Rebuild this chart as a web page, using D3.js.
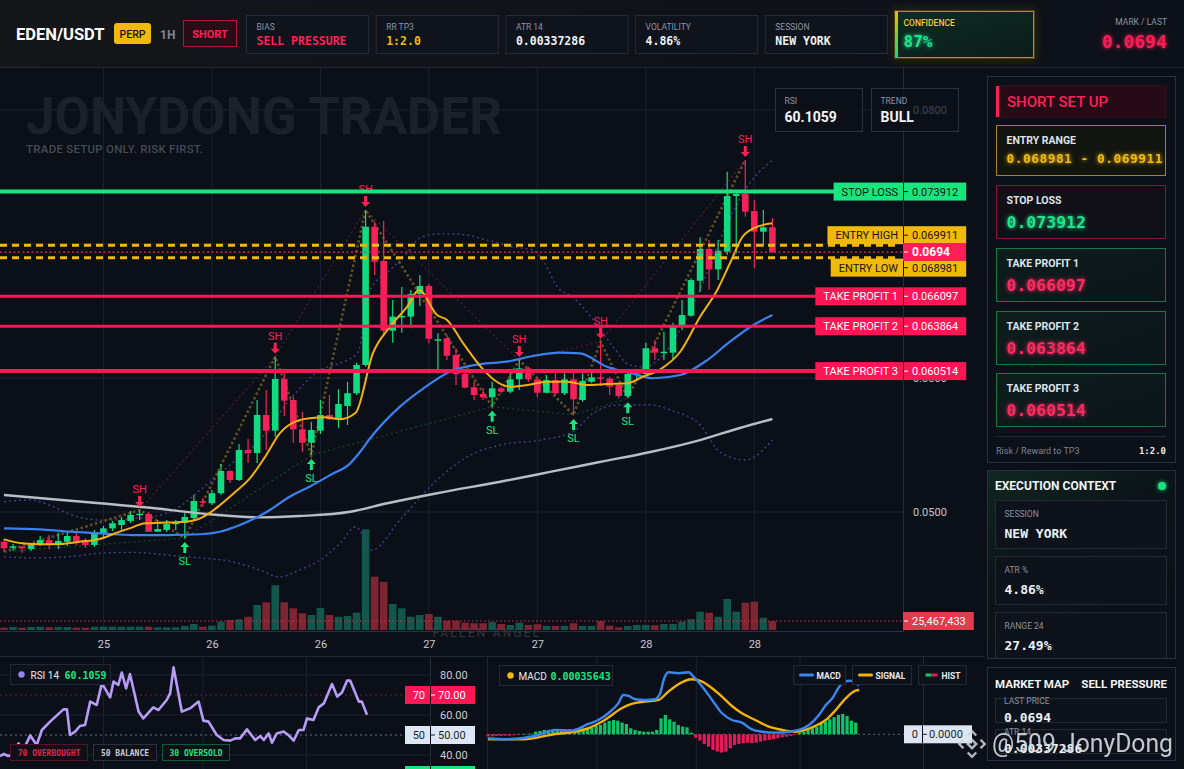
<!DOCTYPE html>
<html>
<head>
<meta charset="utf-8">
<title>EDEN/USDT 1H</title>
<script src="https://cdn.jsdelivr.net/npm/d3@7"></script>
<style>
  html, body { margin: 0; padding: 0; background: #0b0f17; overflow: hidden; }
  svg { display: block; }
  text { font-family: Roboto, "Noto Sans", sans-serif; }
  .mono { font-family: "DejaVu Sans Mono", "Liberation Mono", monospace; font-weight: bold; }
  .narrow { font-family: "Liberation Sans Narrow", Roboto, sans-serif; }
</style>
</head>
<body>
<svg id="chart" width="1184" height="769"></svg>
<script>
// ---- values ----
const pair = 'EDEN/USDT'
// [open, high, low, close], one per 1H bar
const candles = [
  [0.04778, 0.04796, 0.04704, 0.04729], [0.04737, 0.04761, 0.04711, 0.04744],
  [0.04741, 0.04746, 0.04696, 0.04729], [0.04724, 0.04769, 0.04709, 0.04754],
  [0.04761, 0.04821, 0.04746, 0.04791], [0.04791, 0.04828, 0.04724, 0.04761],
  [0.04761, 0.04846, 0.04724, 0.04784], [0.04778, 0.04843, 0.04746, 0.04821],
  [0.04821, 0.04851, 0.04754, 0.04778], [0.04778, 0.04806, 0.04731, 0.04754],
  [0.04754, 0.04866, 0.04739, 0.04846], [0.04841, 0.04896, 0.04813, 0.04878],
  [0.04878, 0.04933, 0.04858, 0.04916], [0.04903, 0.04963, 0.04866, 0.04940],
  [0.04933, 0.05007, 0.04918, 0.04978], [0.04983, 0.05015, 0.04940, 0.04987],
  [0.04985, 0.05000, 0.04851, 0.04853], [0.04853, 0.04940, 0.04851, 0.04873],
  [0.04866, 0.04940, 0.04851, 0.04910], [0.04916, 0.04940, 0.04866, 0.04920],
  [0.04918, 0.04993, 0.04806, 0.04963], [0.04955, 0.05127, 0.04948, 0.05082],
  [0.05080, 0.05104, 0.05040, 0.05075], [0.05065, 0.05164, 0.05052, 0.05140],
  [0.05140, 0.05358, 0.05127, 0.05306], [0.05306, 0.05313, 0.05216, 0.05239],
  [0.05239, 0.05507, 0.05231, 0.05463], [0.05463, 0.05545, 0.05366, 0.05440],
  [0.05440, 0.05836, 0.05366, 0.05724], [0.05724, 0.05910, 0.05463, 0.05607],
  [0.05607, 0.06159, 0.05562, 0.05993], [0.05993, 0.06047, 0.05716, 0.05831],
  [0.05836, 0.05860, 0.05515, 0.05617], [0.05617, 0.05749, 0.05450, 0.05517],
  [0.05517, 0.05674, 0.05425, 0.05612], [0.05607, 0.05836, 0.05582, 0.05724],
  [0.05724, 0.05873, 0.05687, 0.05692], [0.05692, 0.05916, 0.05625, 0.05806],
  [0.05791, 0.05972, 0.05649, 0.05886], [0.05886, 0.06114, 0.05873, 0.06097],
  [0.06097, 0.07254, 0.06084, 0.07129], [0.07129, 0.07167, 0.06769, 0.06868],
  [0.06873, 0.07172, 0.06308, 0.06353], [0.06353, 0.06582, 0.06263, 0.06458],
  [0.06453, 0.06679, 0.06338, 0.06463], [0.06458, 0.06657, 0.06371, 0.06627],
  [0.06627, 0.06769, 0.06537, 0.06687], [0.06687, 0.06702, 0.06259, 0.06293],
  [0.06284, 0.06334, 0.06035, 0.06289], [0.06296, 0.06321, 0.06134, 0.06166],
  [0.06172, 0.06222, 0.05948, 0.06028], [0.06030, 0.06060, 0.05923, 0.05928],
  [0.05931, 0.05972, 0.05836, 0.05873], [0.05881, 0.05925, 0.05836, 0.05856],
  [0.05856, 0.05972, 0.05786, 0.05923], [0.05923, 0.05935, 0.05886, 0.05898],
  [0.05898, 0.06060, 0.05886, 0.05990], [0.05990, 0.06134, 0.05910, 0.06072],
  [0.06072, 0.06084, 0.05972, 0.05990], [0.05990, 0.06010, 0.05856, 0.05890],
  [0.05890, 0.06022, 0.05886, 0.05985], [0.05985, 0.06035, 0.05873, 0.05886],
  [0.05886, 0.06035, 0.05873, 0.05990], [0.05990, 0.06037, 0.05724, 0.05841],
  [0.05836, 0.06035, 0.05823, 0.05978], [0.05972, 0.06047, 0.05960, 0.06005],
  [0.06005, 0.06271, 0.05940, 0.05998], [0.05995, 0.06010, 0.05873, 0.05935],
  [0.05948, 0.05955, 0.05849, 0.05866], [0.05866, 0.06047, 0.05849, 0.06030],
  [0.06035, 0.06055, 0.05990, 0.06047], [0.06030, 0.06263, 0.06022, 0.06222],
  [0.06222, 0.06284, 0.06134, 0.06189], [0.06192, 0.06346, 0.06134, 0.06196],
  [0.06189, 0.06413, 0.06134, 0.06388], [0.06383, 0.06582, 0.06358, 0.06470],
  [0.06465, 0.06744, 0.06458, 0.06731], [0.06726, 0.07050, 0.06644, 0.06963],
  [0.06963, 0.07030, 0.06657, 0.06811], [0.06811, 0.07030, 0.06731, 0.06950],
  [0.06943, 0.07540, 0.06918, 0.07358], [0.07358, 0.07403, 0.06931, 0.07373],
  [0.07373, 0.07627, 0.07204, 0.07241], [0.07246, 0.07328, 0.06819, 0.07092],
  [0.07092, 0.07254, 0.06980, 0.07125], [0.07125, 0.07192, 0.06935, 0.06940]
]
// volume per bar, millions
const volumesM = [
  6.5, 8.5, 6.5, 8.5, 9.3, 7.6, 8.5, 8.5, 6.5, 6.5,
  9.3, 9.3, 9.3, 9.3, 9.3, 9.3, 9.3, 7.6, 7.6, 7.6,
  11.3, 17, 9.3, 12.2, 23.5, 28.3, 30.3, 37.6, 70.8, 78.4,
  127, 78.4, 61.4, 47.3, 42.5, 62.3, 42.5, 37.6, 39.6, 49,
  285, 151, 136, 73.6, 61.4, 37.6, 42.5, 45.3, 37.6, 26.3,
  26.3, 20.7, 19, 19, 22.6, 17, 14.2, 20.7, 14.2, 16.1,
  11.3, 11.3, 11.3, 19, 11.3, 11.3, 25.5, 12.2, 7.6, 11.3,
  14.2, 14.2, 13.3, 17, 17, 23.5, 30.3, 51.8, 49, 37.6,
  87.7, 51.8, 77.3, 80.1, 34.8, 25.467433
]
const tickIdx = [11, 23, 35, 47, 59, 71, 83]
const tickLabels = ['25', '26', '26', '27', '27', '28', '28']
const priceTicks = [0.05, 0.06, 0.07, 0.08]

// moving averages and bands: [bar, price]
const emaFast = [
  [0, 0.04796], [2, 0.04766], [4, 0.04759], [6.2, 0.04761], [8.4, 0.04778], [10.6, 0.04799],
  [12.3, 0.04841], [13.9, 0.04878], [15.6, 0.04916], [17.3, 0.04920], [20, 0.04928],
  [21.7, 0.04953], [22.8, 0.04995], [23.9, 0.05052], [25.6, 0.05151], [27.2, 0.05251],
  [28.9, 0.05413], [30.5, 0.05587], [32.2, 0.05674], [33.8, 0.05699], [35.5, 0.05707],
  [37.2, 0.05692], [38.9, 0.05740], [40.8, 0.06184], [42.7, 0.06383], [44.6, 0.06532],
  [45.9, 0.06657], [47.9, 0.06470], [49, 0.06433], [50.8, 0.06259], [52.9, 0.06072],
  [54.5, 0.05972], [56, 0.05935], [57.9, 0.05948], [60.1, 0.05972], [62.3, 0.05972],
  [64.5, 0.05948], [66.7, 0.05955], [68.9, 0.05960], [70.7, 0.06010], [72.6, 0.06065],
  [74.8, 0.06196], [77, 0.06457], [78.9, 0.06657], [80.3, 0.06856], [81.7, 0.07054],
  [82.9, 0.07117], [85, 0.07154]
]
const emaMid = [
  [0, 0.04878], [4, 0.04871], [7.3, 0.04853], [10.6, 0.04841], [14.3, 0.04828], [18, 0.04828],
  [21.7, 0.04834], [23.9, 0.04853], [26.1, 0.04903], [29.1, 0.05002], [31.6, 0.05114],
  [33.8, 0.05189], [36.1, 0.05276], [38.3, 0.05363], [39.4, 0.05450], [40.5, 0.05550],
  [43.8, 0.05786], [46.4, 0.05923], [49.3, 0.06047], [52.7, 0.06104], [55.6, 0.06122],
  [58.5, 0.06164], [61.5, 0.06189], [63.7, 0.06184], [66.7, 0.06084], [69.2, 0.06040],
  [71.8, 0.05998], [74.8, 0.06022], [77.8, 0.06134], [80.3, 0.06271], [82.9, 0.06396],
  [85, 0.06470]
]
const emaSlow = [
  [0, 0.05127], [10.6, 0.05065], [16.2, 0.05032], [21.7, 0.04990], [28.5, 0.04960],
  [32.7, 0.04970], [38.3, 0.05002], [42.4, 0.05065], [47.9, 0.05140], [54.9, 0.05226],
  [60.4, 0.05299], [65.9, 0.05373], [71.5, 0.05448], [77, 0.05537], [81.4, 0.05627],
  [85, 0.05694]
]
const bandUpper = [
  [0, 0.05077], [2.9, 0.05090], [5.4, 0.05040], [7, 0.04990], [10.6, 0.04940], [15, 0.04955],
  [18.4, 0.05000], [21.7, 0.05164], [25, 0.05351], [28.3, 0.05537], [31.6, 0.05836],
  [35, 0.06060], [37.2, 0.06112], [39.1, 0.06187], [40.5, 0.06657], [42.7, 0.06806],
  [44.6, 0.06933], [46, 0.07045], [47.9, 0.07075], [50.1, 0.07075], [53.4, 0.07030],
  [56.3, 0.06978], [58.5, 0.06955], [59.8, 0.06858], [61.2, 0.06679], [62.9, 0.06604],
  [65.2, 0.06433], [67.4, 0.06231], [69.2, 0.06097], [70.9, 0.06082], [72.6, 0.06149],
  [74.8, 0.06358], [77, 0.06657], [79.2, 0.07030], [82.2, 0.07425], [85, 0.07627]
]
const bandLower = [
  [0, 0.04666], [3.2, 0.04657], [7, 0.04666], [10.6, 0.04692], [14.3, 0.04699], [18, 0.04679],
  [21.7, 0.04657], [25.3, 0.04629], [28.3, 0.04567], [30.5, 0.04515], [32.7, 0.04567],
  [35, 0.04642], [37.2, 0.04769], [38.9, 0.04890], [40.7, 0.04716], [43.8, 0.04940],
  [47.9, 0.05239], [51.6, 0.05425], [54.9, 0.05500], [59.3, 0.05537], [62.9, 0.05597],
  [65.2, 0.05739], [68.1, 0.05799], [71.5, 0.05799], [73.7, 0.05761], [77, 0.05649],
  [79.2, 0.05448], [82, 0.05388], [85, 0.05537]
]
// swing points
const pivotIdx = [0, 15, 20, 30, 34, 40, 54, 57, 63, 66, 69, 82]
const pivotType = ['L', 'H', 'L', 'H', 'L', 'H', 'L', 'H', 'L', 'H', 'L', 'H']

// trade levels
const levelNames = ['STOP LOSS', 'ENTRY HIGH', 'ENTRY LOW', 'TAKE PROFIT 1', 'TAKE PROFIT 2', 'TAKE PROFIT 3']
const levelPrices = [0.073912, 0.069911, 0.068981, 0.066097, 0.063864, 0.060514]
const lastPrice = 0.0694
const lastVolume = 25467433

// RSI 14: [bar, value]
const rsiPoints = [
  [0, 39.5], [0.9, 40.5], [1.9, 39.5], [3.1, 40.3], [4.3, 45.8], [5.4, 42.5], [7, 49.8],
  [8.5, 45], [9.7, 52.5], [11.6, 56.7], [14.7, 62.8], [15.5, 62.8], [16.2, 50], [17.4, 51.7],
  [18.5, 54.5], [19.7, 55], [20.9, 66.7], [22.4, 65], [23.6, 75.8], [24.3, 73.3], [25.5, 68.8],
  [26.3, 76.7], [27.4, 75], [28.2, 81.2], [29.2, 73.3], [30.1, 80.5], [32.1, 61.7], [33.2, 58.3],
  [35.5, 63.8], [36.7, 62.5], [38.6, 67.5], [39.4, 70.8], [40.2, 83.8], [42.1, 61.7], [44, 63.3],
  [46, 66.7], [47.1, 57.2], [48.3, 56.7], [50.2, 50], [51.8, 47.5], [53.3, 47.2], [54.5, 48.3],
  [55.6, 48.3], [57.2, 52.8], [59.1, 47.5], [60.3, 49.5], [61.1, 47.5], [62.2, 50.8], [63, 46.2],
  [64.1, 50.8], [65.7, 51.7], [66.8, 50], [68, 47.2], [69.2, 52.5], [70.3, 52.5], [71.1, 58.3],
  [72.6, 57.5], [73.8, 63.8], [75, 65.8], [76.9, 75.5], [78.1, 69.2], [79.2, 71.2], [80.4, 77.2],
  [81.1, 77.2], [83.1, 66.7], [83.8, 66.7], [85, 60.1]
]
const rsiTicks = [80, 60, 40]
const rsiLast = '60.1059'

// MACD in units of 1e-6: [bar, value]
const macdLine = [
  [0, -29], [3.9, -36], [7.7, -29], [11.6, -5], [15.5, 32], [19.3, 27], [23.2, 75], [25.5, 104],
  [27.8, 153], [30.1, 225], [31.3, 286], [32.5, 279], [34, 255], [36.3, 250], [38.6, 255],
  [39.8, 298], [40.6, 395], [41.7, 451], [44, 444], [46.4, 451], [47.5, 419], [49.5, 347],
  [51.8, 250], [54.1, 153], [56.4, 104], [58.7, 85], [61, 36], [63.4, 19], [66.5, 12],
  [69.6, 19], [71.9, 32], [74.2, 68], [76.5, 141], [78.1, 213], [79.6, 262], [81.1, 342],
  [82.3, 383], [83.8, 390], [85, 371], [85.8, 356]
]
const signalLine = [
  [0, -36], [3.9, -36], [7.7, -36], [11.6, -22], [15.5, 2], [19.3, 15], [23.2, 44], [27, 104],
  [30.9, 189], [33.2, 221], [36.3, 238], [39.4, 250], [41.7, 310], [44, 364], [47.1, 400],
  [49.5, 383], [51.8, 335], [54.1, 274], [56.4, 206], [58.7, 153], [61.8, 104], [64.9, 56],
  [68, 32], [71.1, 19], [73.4, 32], [75.7, 61], [78.1, 104], [80.4, 177], [82.7, 262],
  [85, 318], [85.8, 322]
]
const histE6 = [
  -15, -15, -12, -12, -10, -10, -7, -5, 3, 3, 5,
  19, 24, 32, 32, 27, 32, 32, 32, 36, 36,
  32, 41, 44, 48, 61, 68, 85, 97, 104, 99,
  85, 75, 44, 32, 24, 19, 19, 19, 32, 116,
  141, 109, 92, 68, 56, 51, 12, -24, -46, -70,
  -90, -114, -126, -133, -126, -102, -78, -70, -65, -61,
  -65, -61, -53, -46, -41, -36, -29, -22, -17, -12,
  -5, 12, 19, 32, 44, 56, 75, 92, 109, 124,
  141, 148, 133, 99, 85
]
const macdLast = '0.00035643'

// header and panels
const statLabels = ['BIAS', 'RR TP3', 'ATR 14', 'VOLATILITY', 'SESSION']
const statValues = ['SELL PRESSURE', '1:2.0', '0.00337286', '4.86%', 'NEW YORK']
const confidence = '87%'
const setupLabels = ['STOP LOSS', 'TAKE PROFIT 1', 'TAKE PROFIT 2', 'TAKE PROFIT 3']
const setupValues = ['0.073912', '0.066097', '0.063864', '0.060514']
const entryRange = '0.068981 - 0.069911'
const contextLabels = ['SESSION', 'ATR %', 'RANGE 24']
const contextValues = ['NEW YORK', '4.86%', '27.49%']
const mapLabels = ['LAST PRICE', 'ATR 14']
const mapValues = ['0.0694', '0.00337286']

// ---- colours ----
const UP = '#12da80', DOWN = '#f7215a', GOLD = '#f0b90b', BG = '#0b0f17', LINE = '#1c2230'

const svg = d3.select('#chart')
const defs = svg.append('defs')

function glowFilter (id, sd) {
  const f = defs.append('filter').attr('id', id)
    .attr('x', '-30%').attr('y', '-80%').attr('width', '160%').attr('height', '260%')
  f.append('feGaussianBlur').attr('in', 'SourceGraphic').attr('stdDeviation', sd).attr('result', 'b')
  const m = f.append('feMerge')
  m.append('feMergeNode').attr('in', 'b')
  m.append('feMergeNode').attr('in', 'SourceGraphic')
}
glowFilter('glow', 2.2)
glowFilter('glowBig', 5)

function linGrad (id, stops, x2, y2) {
  const g = defs.append('linearGradient').attr('id', id)
    .attr('x1', 0).attr('y1', 0).attr('x2', x2).attr('y2', y2)
  stops.forEach(s => g.append('stop').attr('offset', s[0]).attr('stop-color', s[1]).attr('stop-opacity', s[2] == null ? 1 : s[2]))
}
linGrad('hdrGrad', [[0, '#151619'], [0.6, '#0f1219'], [1, '#0c1018']], 1, 0)
linGrad('confGrad', [[0, '#0d2d22'], [1, '#0c1b1a']], 1, 1)
linGrad('confBar', [[0, GOLD], [1, '#16d779']], 0, 1)
linGrad('ctxGrad', [[0, '#10271f'], [0.45, '#0c1419'], [1, '#0c1018']], 0.6, 1)
linGrad('tpGrad', [[0, '#0e1d1c'], [1, '#0c141a']], 1, 1)

function text (g, x, yy, s, size, fill, opts) {
  opts = opts || {}
  const t = g.append('text').attr('x', x).attr('y', yy).text(s)
    .attr('font-size', size).attr('fill', fill)
  if (opts.cls) t.attr('class', opts.cls)
  if (opts.anchor) t.attr('text-anchor', opts.anchor)
  if (opts.weight) t.attr('font-weight', opts.weight)
  if (opts.filter) t.attr('filter', opts.filter)
  if (opts.spacing) t.attr('letter-spacing', opts.spacing)
  return t
}

// backgrounds
svg.append('rect').attr('width', 1184).attr('height', 769).attr('fill', BG)
svg.append('rect').attr('width', 1184).attr('height', 67).attr('fill', 'url(#hdrGrad)')
svg.append('line').attr('x1', 0).attr('x2', 1184).attr('y1', 67.5).attr('y2', 67.5).attr('stroke', '#1f2532')

// ---- scales ----
const x = d3.scaleLinear().domain([0, candles.length - 1]).range([4, 772.4])
const y = d3.scaleLinear().domain([0.05, 0.08]).range([512, 110])
const vy = d3.scaleLinear().domain([0, 300]).range([630, 524])

defs.append('clipPath').attr('id', 'mainClip').append('rect')
  .attr('x', 0).attr('y', 68).attr('width', 903).attr('height', 564)

// grid
const grid = svg.append('g')
grid.selectAll('line.h').data(priceTicks).join('line').attr('class', 'h')
  .attr('x1', 0).attr('x2', 903).attr('y1', d => y(d)).attr('y2', d => y(d)).attr('stroke', LINE)
grid.selectAll('line.v').data(tickIdx).join('line').attr('class', 'v')
  .attr('x1', d => x(d)).attr('x2', d => x(d)).attr('y1', 68).attr('y2', 632).attr('stroke', LINE)
grid.append('line').attr('x1', 903.5).attr('x2', 903.5).attr('y1', 68).attr('y2', 632).attr('stroke', '#232a38')
grid.append('line').attr('x1', 0).attr('x2', 903).attr('y1', 631.5).attr('y2', 631.5).attr('stroke', '#2a3142')

// price axis
const yAxis = svg.append('g').attr('transform', 'translate(903,0)')
  .call(d3.axisRight(y).tickValues(priceTicks).tickFormat(d3.format('.4f')).tickSize(0).tickPadding(10))
yAxis.select('.domain').remove()
yAxis.selectAll('text').attr('fill', '#c4c8d0').attr('font-size', 11).attr('class', 'narrow')

// time axis
const xAxis = svg.append('g').attr('transform', 'translate(0,632)')
  .call(d3.axisBottom(x).tickValues(tickIdx).tickFormat((d, i) => tickLabels[i]).tickSize(0).tickPadding(8))
xAxis.select('.domain').remove()
xAxis.selectAll('text').attr('fill', '#c9ccd3').attr('font-size', 11).attr('class', 'narrow')

// watermark
const wm = svg.append('g')
text(wm, 26, 134, 'JONYDONG TRADER', 52, '#1c2028', { weight: 700 }).attr('textLength', 476).attr('lengthAdjust', 'spacingAndGlyphs')
text(wm, 26, 153, 'TRADE SETUP ONLY. RISK FIRST.', 11.5, '#454a55', { weight: 500 }).attr('textLength', 177)
text(wm, 487, 637, 'FALLEN ANGEL', 12, '#30353f', { anchor: 'middle', spacing: 2.2 })

const main = svg.append('g').attr('clip-path', 'url(#mainClip)')

// volume
main.append('g').selectAll('rect').data(volumesM).join('rect')
  .attr('x', (d, i) => x(i) - 3.8).attr('width', 7.6)
  .attr('y', d => vy(d)).attr('height', d => vy(0) - vy(d))
  .attr('fill', (d, i) => candles[i][3] >= candles[i][0] ? '#11574c' : '#7e2532')
main.append('line').attr('x1', 0).attr('x2', 903).attr('y1', vy(lastVolume / 1e6)).attr('y2', vy(lastVolume / 1e6))
  .attr('stroke', '#c8334a').attr('stroke-dasharray', '1.5,2.5')

const lineOf = d3.line().x(d => x(d[0])).y(d => y(d[1])).curve(d3.curveMonotoneX)

// bands
main.selectAll('path.band').data([bandUpper, bandLower]).join('path').attr('class', 'band')
  .attr('d', lineOf).attr('fill', 'none').attr('stroke', '#4c3f94').attr('stroke-width', 1.3).attr('stroke-dasharray', '2,3')

// swing structure
const pivots = pivotIdx.map((p, i) => [p, pivotType[i] === 'H' ? candles[p][1] : candles[p][2], pivotType[i]])
const straight = d3.line().x(d => x(d[0])).y(d => y(d[1]))
main.append('path').attr('d', straight(pivots.filter(d => d[2] === 'H')))
  .attr('fill', 'none').attr('stroke', '#5a1a34').attr('stroke-width', 1.2).attr('stroke-dasharray', '2,3')
main.append('path').attr('d', straight(pivots.filter(d => d[2] === 'L')))
  .attr('fill', 'none').attr('stroke', '#124a30').attr('stroke-width', 1.2).attr('stroke-dasharray', '2,3')
main.append('path').attr('d', straight(pivots))
  .attr('fill', 'none').attr('stroke', '#5f5020').attr('stroke-width', 2.6).attr('stroke-dasharray', '2.5,2.5')

// trade levels (behind candles)
const levelStyle = [
  { c: '#19e57f', w: 4, dash: null },
  { c: GOLD, w: 3, dash: '7,5' },
  { c: GOLD, w: 3, dash: '7,5' },
  { c: '#ff1654', w: 3, dash: null },
  { c: '#ff1654', w: 3, dash: null },
  { c: '#ff1654', w: 4, dash: null }
]
svg.append('g').selectAll('line').data(levelPrices).join('line')
  .attr('x1', 0).attr('x2', 900).attr('y1', d => y(d)).attr('y2', d => y(d))
  .attr('stroke', (d, i) => levelStyle[i].c).attr('stroke-width', (d, i) => levelStyle[i].w)
  .attr('stroke-dasharray', (d, i) => levelStyle[i].dash)
svg.append('line').attr('x1', 0).attr('x2', 903).attr('y1', y(lastPrice)).attr('y2', y(lastPrice))
  .attr('stroke', '#ff1f56').attr('stroke-width', 1.2).attr('stroke-dasharray', '2,2.5')

// candles
const cg = main.append('g').selectAll('g').data(candles).join('g')
cg.append('line').attr('x1', (d, i) => x(i)).attr('x2', (d, i) => x(i))
  .attr('y1', d => y(d[1])).attr('y2', d => y(d[2]))
  .attr('stroke', d => d[3] >= d[0] ? UP : DOWN).attr('stroke-width', 1.2)
cg.append('rect').attr('x', (d, i) => x(i) - 3.3).attr('width', 6.6)
  .attr('y', d => y(Math.max(d[0], d[3])))
  .attr('height', d => Math.max(1.5, Math.abs(y(d[0]) - y(d[3]))))
  .attr('fill', d => d[3] >= d[0] ? UP : DOWN)

// moving averages
main.append('path').attr('d', lineOf(emaSlow)).attr('fill', 'none').attr('stroke', '#b9bdc6').attr('stroke-width', 2.4)
main.append('path').attr('d', lineOf(emaMid)).attr('fill', 'none').attr('stroke', '#3a80ee').attr('stroke-width', 2.2)
main.append('path').attr('d', lineOf(emaFast)).attr('fill', 'none').attr('stroke', '#f3b10c').attr('stroke-width', 2)

// swing markers
const marks = main.append('g').selectAll('g').data(pivots.filter(d => d[0] > 0)).join('g')
marks.append('text').attr('class', 'narrow')
  .attr('x', d => x(d[0])).attr('text-anchor', 'middle').attr('font-size', 11)
  .attr('y', d => d[2] === 'H' ? y(d[1]) - 17 : y(d[1]) + 27)
  .attr('fill', d => d[2] === 'H' ? '#ff1f56' : '#19e57f')
  .text(d => d[2] === 'H' ? 'SH' : 'SL')
marks.append('path')
  .attr('fill', d => d[2] === 'H' ? '#ff1f56' : '#19e57f')
  .attr('d', d => {
    const cx = x(d[0])
    if (d[2] === 'H') {
      const tip = y(d[1]) - 3, top = tip - 11, mid = tip - 5
      return `M${cx - 1.5},${top}L${cx + 1.5},${top}L${cx + 1.5},${mid}L${cx + 4.5},${mid}L${cx},${tip}L${cx - 4.5},${mid}L${cx - 1.5},${mid}Z`
    }
    const tip = y(d[1]) + 4, bot = tip + 11, mid = tip + 5
    return `M${cx - 1.5},${bot}L${cx + 1.5},${bot}L${cx + 1.5},${mid}L${cx + 4.5},${mid}L${cx},${tip}L${cx - 4.5},${mid}L${cx - 1.5},${mid}Z`
  })

// price tags on the right axis
function priceTag (yy, label, value, bg, fg, bold) {
  const g = svg.append('g')
  const vt = text(g, 912, yy + 4, value, bold ? 12 : 11, fg, { cls: 'narrow', weight: bold ? 700 : null })
  let left = 903
  if (label) {
    const lt = text(g, 898, yy + 4, label, 11, fg, { anchor: 'end', cls: 'narrow' })
    left = 898 - lt.node().getComputedTextLength() - 8
  }
  const right = Math.max(966, 912 + vt.node().getComputedTextLength() + 8)
  g.insert('rect', 'text').attr('x', left).attr('y', yy - 9).attr('width', right - left).attr('height', 18).attr('fill', bg)
  if (label) g.append('line').attr('x1', 903.5).attr('x2', 903.5).attr('y1', yy - 9).attr('y2', yy + 9).attr('stroke', BG)
  g.append('line').attr('x1', 904).attr('x2', 908).attr('y1', yy).attr('y2', yy).attr('stroke', fg)
  return g
}
const tagColors = [['#19e57f', '#0b1410'], [GOLD, '#1a1406'], [GOLD, '#1a1406'],
  ['#ff1654', '#fff'], ['#ff1654', '#fff'], ['#ff1654', '#fff']]
const tagOffset = [0, -10, 10, 0, 0, 0]
levelPrices.forEach((p, i) => priceTag(y(p) + tagOffset[i], levelNames[i], d3.format('.6f')(p), tagColors[i][0], tagColors[i][1]))
priceTag(y(lastPrice), null, d3.format('.4f')(lastPrice), '#ff1f56', '#fff', true)
priceTag(vy(lastVolume / 1e6), null, d3.format(',')(lastVolume), '#e23b4e', '#fff')

// RSI / TREND chips
const chips = [['RSI', rsiLast], ['TREND', 'BULL']]
chips.forEach((c, i) => {
  const g = svg.append('g').attr('transform', `translate(${775.5 + i * 96},88.5)`)
  g.append('rect').attr('width', 87).attr('height', 43).attr('fill', BG).attr('fill-opacity', 0.72).attr('stroke', '#2a3140')
  text(g, 9, 15, c[0], 8.5, '#8d95a5')
  text(g, 9, 33, c[1], 14, '#f2f4f7', { weight: 700, cls: 'narrow' })
})

// ---- header ----
const hdr = svg.append('g')
text(hdr, 16, 40, pair, 16.5, '#ffffff', { weight: 700 })
hdr.append('rect').attr('x', 114).attr('y', 23).attr('width', 37).attr('height', 21).attr('rx', 3).attr('fill', GOLD)
text(hdr, 132.5, 37.5, 'PERP', 10.5, '#1b1505', { anchor: 'middle', weight: 500 })
text(hdr, 160, 39, '1H', 12, '#7f8796', { weight: 700 })
hdr.append('rect').attr('x', 183.5).attr('y', 20.5).attr('width', 53).attr('height', 26).attr('fill', '#2a0c16').attr('stroke', '#b3123c')
text(hdr, 210, 38, 'SHORT', 11, '#ff1f56', { anchor: 'middle', weight: 700 })
const statColors = ['#ff1f56', GOLD, '#eef1f5', '#eef1f5', '#eef1f5']
statLabels.forEach((s, i) => {
  const g = hdr.append('g').attr('transform', `translate(${246.5 + i * 129.7},15.5)`)
  g.append('rect').attr('width', 122).attr('height', 38).attr('fill', '#0e131c').attr('stroke', '#252c39')
  text(g, 10, 14, s, 8.5, '#8d95a5')
  text(g, 10, 29, statValues[i], 11.5, statColors[i], { cls: 'mono' })
})
const conf = hdr.append('g').attr('transform', 'translate(895.5,11.5)')
conf.append('rect').attr('width', 138).attr('height', 46).attr('fill', 'none').attr('stroke', '#b8900e').attr('stroke-width', 3).attr('opacity', 0.35).attr('filter', 'url(#glowBig)')
conf.append('rect').attr('width', 138).attr('height', 46).attr('fill', 'url(#confGrad)').attr('stroke', '#b8900e')
conf.append('rect').attr('x', -0.5).attr('y', -0.5).attr('width', 3).attr('height', 47).attr('fill', 'url(#confBar)')
text(conf, 8, 14, 'CONFIDENCE', 8.5, '#f2c94c', { weight: 500 })
text(conf, 8, 35, confidence, 16, '#1de58a', { cls: 'mono', filter: 'url(#glow)' })
text(hdr, 1167, 25, 'MARK / LAST', 8.5, '#8d95a5', { anchor: 'end' })
text(hdr, 1167, 48, d3.format('.4f')(lastPrice), 18, '#ff1f56', { anchor: 'end', cls: 'mono', filter: 'url(#glow)' })

// ---- trade setup panel ----
const sp = svg.append('g')
sp.append('rect').attr('x', 987.5).attr('y', 76.5).attr('width', 188).attr('height', 386).attr('fill', '#0c1019').attr('stroke', '#263041')
sp.append('rect').attr('x', 996).attr('y', 86).attr('width', 170).attr('height', 31).attr('fill', '#260b16').attr('stroke', '#3a1020')
sp.append('rect').attr('x', 996).attr('y', 86).attr('width', 3).attr('height', 31).attr('fill', '#ff1f56')
text(sp, 1007, 107, 'SHORT SET UP', 15, '#ff1f56', { weight: 500 })
const er = sp.append('g').attr('transform', 'translate(996.5,125.5)')
er.append('rect').attr('width', 169).attr('height', 50).attr('fill', '#12140f').attr('stroke', '#a8860e')
text(er, 10, 18.5, 'ENTRY RANGE', 10.5, '#dfe3ea', { weight: 700 })
text(er, 10, 37.5, entryRange, 13, GOLD, { cls: 'mono', filter: 'url(#glow)' }).attr('textLength', 156)
setupLabels.forEach((s, i) => {
  const top = [185.5, 248.5, 311.5, 373.5][i]
  const g = sp.append('g').attr('transform', `translate(996.5,${top})`)
  g.append('rect').attr('width', 169).attr('height', 53)
    .attr('fill', i === 0 ? '#110f17' : 'url(#tpGrad)').attr('stroke', i === 0 ? '#8a1434' : '#137a46')
  text(g, 10, 18.5, s, 10.5, '#dfe3ea', { weight: 700 })
  text(g, 10, 42, setupValues[i], 16.5, i === 0 ? '#1de58a' : '#ff2a5f', { cls: 'mono', filter: 'url(#glow)' })
})
sp.append('line').attr('x1', 996).attr('x2', 1166).attr('y1', 436.5).attr('y2', 436.5).attr('stroke', '#242b38')
text(sp, 996, 454, 'Risk / Reward to TP3', 9, '#7d8594')
text(sp, 1166, 454, '1:2.0', 9, '#eef1f5', { anchor: 'end', cls: 'mono' })

// ---- execution context ----
defs.append('clipPath').attr('id', 'ctxClip').append('rect').attr('x', 987).attr('y', 470).attr('width', 189).attr('height', 188.5)
const ctx = svg.append('g').attr('clip-path', 'url(#ctxClip)')
ctx.append('rect').attr('x', 987.5).attr('y', 470.5).attr('width', 188).attr('height', 188).attr('fill', 'url(#ctxGrad)')
text(ctx, 995, 490, 'EXECUTION CONTEXT', 12, '#f2f4f7', { weight: 700 })
ctx.append('circle').attr('cx', 1162).attr('cy', 486).attr('r', 4).attr('fill', '#19e57f').attr('filter', 'url(#glow)')
contextLabels.forEach((s, i) => {
  const g = ctx.append('g').attr('transform', `translate(995.5,${500.5 + i * 56})`)
  g.append('rect').attr('width', 171).attr('height', 48).attr('fill', '#0d121b').attr('stroke', '#222a37')
  text(g, 9, 16.5, s, 8.5, '#8a93a3')
  text(g, 9, 37, contextValues[i], 13, '#eef1f5', { cls: 'mono' })
})
svg.append('rect').attr('x', 987.5).attr('y', 470.5).attr('width', 188).attr('height', 188).attr('fill', 'none').attr('stroke', '#263041')

// ---- market map ----
const mm = svg.append('g')
mm.append('rect').attr('x', 987.5).attr('y', 667.5).attr('width', 188).attr('height', 93).attr('fill', '#0c1018').attr('stroke', '#263041')
text(mm, 995, 688, 'MARKET MAP', 11.5, '#f2f4f7', { weight: 700 })
text(mm, 1167, 688, 'SELL PRESSURE', 11.5, '#f2f4f7', { weight: 700, anchor: 'end' })
mapLabels.forEach((s, i) => {
  const top = 698.5 + i * 31
  mm.append('rect').attr('x', 995.5).attr('y', top).attr('width', 171).attr('height', 24).attr('fill', '#0d121b').attr('stroke', '#222a37')
  text(mm, 1004, top + 5, s, 8.5, '#8a93a3')
  text(mm, 1004, top + 23, mapValues[i], 13, '#eef1f5', { cls: 'mono' })
})

// ---- bottom panels ----
svg.append('line').attr('x1', 0).attr('x2', 985).attr('y1', 656.5).attr('y2', 656.5).attr('stroke', '#1f2532')
svg.append('line').attr('x1', 487.5).attr('x2', 487.5).attr('y1', 657).attr('y2', 769).attr('stroke', '#1f2532')

// RSI
const rx = d3.scaleLinear().domain([0, candles.length - 1]).range([0, 367])
const ry = d3.scaleLinear().domain([40, 80]).range([755, 675])
defs.append('clipPath').attr('id', 'rsiClip').append('rect').attr('x', 0).attr('y', 657).attr('width', 430).attr('height', 112)
const rsi = svg.append('g')
rsi.selectAll('line.h').data(rsiTicks).join('line').attr('class', 'h')
  .attr('x1', 0).attr('x2', 430).attr('y1', d => ry(d)).attr('y2', d => ry(d)).attr('stroke', LINE)
rsi.selectAll('line.v').data([24, 47, 71]).join('line').attr('class', 'v')
  .attr('x1', d => rx(d)).attr('x2', d => rx(d)).attr('y1', 657).attr('y2', 769).attr('stroke', LINE)
rsi.append('line').attr('x1', 430.5).attr('x2', 430.5).attr('y1', 657).attr('y2', 769).attr('stroke', '#232a38')
rsi.append('line').attr('x1', 0).attr('x2', 430).attr('y1', ry(70)).attr('y2', ry(70)).attr('stroke', '#7a1a38').attr('stroke-dasharray', '2,3')
rsi.append('line').attr('x1', 0).attr('x2', 430).attr('y1', ry(50)).attr('y2', ry(50)).attr('stroke', '#6a7080').attr('stroke-dasharray', '2,3')
rsi.append('path').attr('clip-path', 'url(#rsiClip)')
  .attr('d', d3.line().x(d => rx(d[0])).y(d => ry(d[1]))(rsiPoints))
  .attr('fill', 'none').attr('stroke', '#b69cf7').attr('stroke-width', 2.6).attr('stroke-linejoin', 'round')
const rAxis = rsi.append('g').attr('transform', 'translate(430,0)')
  .call(d3.axisRight(ry).tickValues(rsiTicks).tickFormat(d3.format('.2f')).tickSize(0).tickPadding(10))
rAxis.select('.domain').remove()
rAxis.selectAll('text').attr('fill', '#c9ccd3').attr('font-size', 11).attr('class', 'narrow')
const rsiTags = [[70, '#ff1654', '#fff'], [50, '#dce6f5', '#1a1f2a'], [30, '#19e57f', '#0b1410']]
rsiTags.forEach(t => {
  const g = rsi.append('g').attr('transform', `translate(0,${ry(t[0])})`)
  g.append('rect').attr('x', 405).attr('y', -9).attr('width', 70).attr('height', 18).attr('fill', t[1])
  g.append('line').attr('x1', 430.5).attr('x2', 430.5).attr('y1', -9).attr('y2', 9).attr('stroke', BG)
  g.append('line').attr('x1', 431).attr('x2', 435).attr('y1', 0).attr('y2', 0).attr('stroke', t[2])
  text(g, 425, 4, String(t[0]), 11, t[2], { anchor: 'end', cls: 'narrow' })
  text(g, 438, 4, d3.format('.2f')(t[0]), 11, t[2], { cls: 'narrow' })
})
const rl = rsi.append('g').attr('transform', 'translate(10.5,664.5)')
rl.append('rect').attr('width', 100).attr('height', 20).attr('fill', '#0d1119').attr('stroke', '#232a36')
rl.append('circle').attr('cx', 11).attr('cy', 10).attr('r', 3.2).attr('fill', '#9b83ee')
text(rl, 20, 14, 'RSI 14', 10, '#e8ebf0')
text(rl, 54, 14, rsiLast, 10, '#19e57f', { cls: 'mono' })
const badges = [['70 OVERBOUGHT', '#5a1028', '#e0204f', 77], ['50 BALANCE', '#2a303c', '#c9ccd3', 63], ['30 OVERSOLD', '#0d5a36', '#19e57f', 67]]
let bx = 10.5
badges.forEach(b => {
  rsi.append('rect').attr('x', bx).attr('y', 744.5).attr('width', b[3]).attr('height', 16).attr('fill', '#0d1017').attr('stroke', b[1])
  text(rsi, bx + b[3] / 2, 756, b[0], 8, b[2], { anchor: 'middle', cls: 'mono' })
  bx += b[3] + 6
})

// MACD
const mx = d3.scaleLinear().domain([0, candles.length - 1]).range([488, 855.7])
const my = d3.scaleLinear().domain([-200, 400]).range([761.8, 679.3])
const mg = svg.append('g')
mg.selectAll('line.v').data([24, 47, 71]).join('line').attr('class', 'v')
  .attr('x1', d => mx(d) + 5).attr('x2', d => mx(d) + 5).attr('y1', 657).attr('y2', 769).attr('stroke', LINE)
mg.append('line').attr('x1', 923.5).attr('x2', 923.5).attr('y1', 657).attr('y2', 769).attr('stroke', '#232a38')
mg.append('line').attr('x1', 488).attr('x2', 904).attr('y1', my(0)).attr('y2', my(0)).attr('stroke', '#5d6473').attr('stroke-dasharray', '2,3')
mg.append('g').selectAll('rect').data(histE6).join('rect')
  .attr('x', (d, i) => mx(i) - 1.6).attr('width', 3.2)
  .attr('y', d => my(Math.max(0, d))).attr('height', d => Math.abs(my(d) - my(0)))
  .attr('fill', d => d >= 0 ? '#0ec36a' : '#e8185a')
const mline = d3.line().x(d => mx(d[0])).y(d => my(d[1])).curve(d3.curveMonotoneX)
mg.append('path').attr('d', mline(signalLine)).attr('fill', 'none').attr('stroke', '#f3b10c').attr('stroke-width', 2.4)
mg.append('path').attr('d', mline(macdLine)).attr('fill', 'none').attr('stroke', '#3a86f0').attr('stroke-width', 2.4)
const ml = mg.append('g').attr('transform', 'translate(499.5,665.5)')
ml.append('rect').attr('width', 113).attr('height', 20).attr('fill', '#0d1119').attr('stroke', '#232a36')
ml.append('circle').attr('cx', 11).attr('cy', 10).attr('r', 3.2).attr('fill', GOLD)
text(ml, 19, 14, 'MACD', 10, '#e8ebf0')
text(ml, 51, 14, macdLast, 10, '#19e57f', { cls: 'mono' })
const macdKeys = [['MACD', '#3a86f0', 52], ['SIGNAL', '#f3b10c', 59], ['HIST', null, 48]]
let kx = 793.5
macdKeys.forEach(k => {
  const g = mg.append('g').attr('transform', `translate(${kx},665.5)`)
  g.append('rect').attr('width', k[2]).attr('height', 19).attr('fill', '#0d1119').attr('stroke', '#232a36')
  if (k[1]) {
    g.append('line').attr('x1', 7).attr('x2', 19).attr('y1', 9.5).attr('y2', 9.5).attr('stroke', k[1]).attr('stroke-width', 3).attr('stroke-linecap', 'round')
  } else {
    g.append('line').attr('x1', 7).attr('x2', 13).attr('y1', 9.5).attr('y2', 9.5).attr('stroke', '#0ec36a').attr('stroke-width', 3)
    g.append('line').attr('x1', 13).attr('x2', 19).attr('y1', 9.5).attr('y2', 9.5).attr('stroke', '#e8185a').attr('stroke-width', 3)
  }
  text(g, 23, 13, k[0], 8.5, '#e8ebf0', { weight: 700 })
  kx += k[2] + 7
})
const zt = mg.append('g').attr('transform', `translate(0,${my(0)})`)
zt.append('rect').attr('x', 904).attr('y', -9).attr('width', 68).attr('height', 18).attr('fill', '#dce6f5')
zt.append('line').attr('x1', 922.5).attr('x2', 922.5).attr('y1', -9).attr('y2', 9).attr('stroke', BG)
zt.append('line').attr('x1', 923).attr('x2', 927).attr('y1', 0).attr('y2', 0).attr('stroke', '#1a1f2a')
text(zt, 918, 4, '0', 11, '#1a1f2a', { anchor: 'end', cls: 'narrow' })
text(zt, 929, 4, d3.format('.4f')(0), 11, '#1a1f2a', { cls: 'narrow' })

// author watermark
const au = svg.append('g')
const logo = au.append('g').attr('transform', 'translate(972,744) rotate(45)').attr('fill', 'none').attr('stroke', '#d2d6dc').attr('stroke-width', 2.4).attr('opacity', 0.85)
logo.append('rect').attr('x', -3).attr('y', -3).attr('width', 6).attr('height', 6)
logo.append('path').attr('d', 'M-9,-3V-9H-3M3,9H9V3M-9,3V9H-3M3,-9H9V-3')
text(au, 992, 752, '@509 JonyDong', 25, '#d9dce1', { weight: 400 }).attr('opacity', 0.9).attr('textLength', 181).attr('lengthAdjust', 'spacingAndGlyphs')
</script>
</body>
</html>
